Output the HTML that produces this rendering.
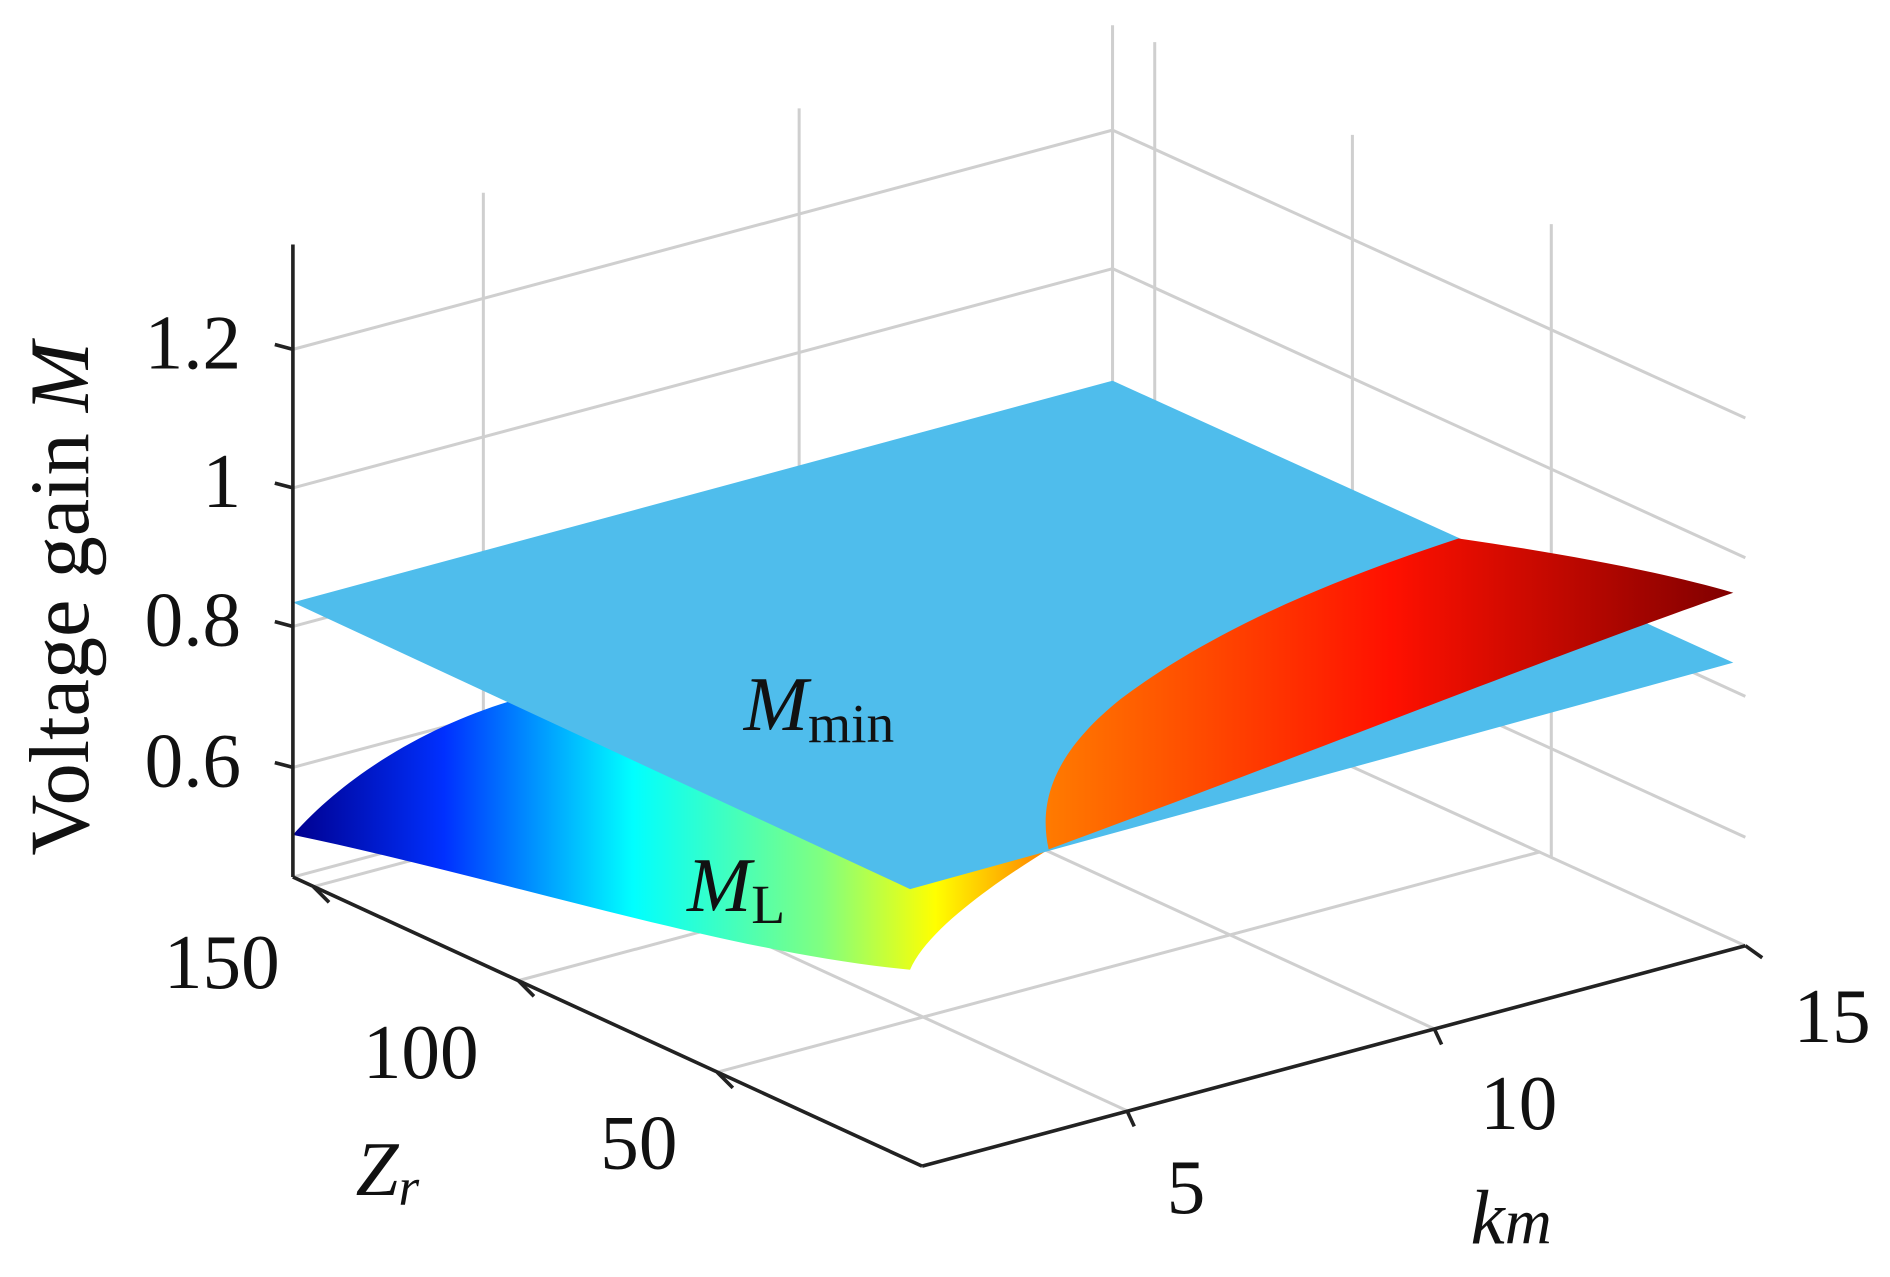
<!DOCTYPE html>
<html><head><style>html,body{margin:0;padding:0;background:#fff}svg{display:block}</style></head>
<body>
<svg width="1890" height="1277" viewBox="0 0 1568 1060" preserveAspectRatio="none" xmlns="http://www.w3.org/2000/svg" font-family="Liberation Serif, serif">
<defs>
<linearGradient id="gb" x1="243" y1="0" x2="870" y2="0" gradientUnits="userSpaceOnUse">
<stop offset="0" stop-color="#00008f"/><stop offset="0.2" stop-color="#0030ff"/><stop offset="0.45" stop-color="#00ffff"/><stop offset="0.7" stop-color="#80ff80"/><stop offset="0.85" stop-color="#ffff00"/><stop offset="1" stop-color="#ff8000"/></linearGradient>
<linearGradient id="gr" x1="870" y1="0" x2="1438" y2="0" gradientUnits="userSpaceOnUse">
<stop offset="0" stop-color="#ff7a00"/><stop offset="0.5" stop-color="#ff1000"/><stop offset="1" stop-color="#800000"/></linearGradient>
</defs>
<g stroke="#cfcfcf" stroke-width="2.5" fill="none">
<line x1="923" y1="21" x2="923" y2="546"/><line x1="958" y1="35" x2="958" y2="546"/>
<line x1="401" y1="160" x2="401" y2="685"/><line x1="663" y1="90" x2="663" y2="615"/>
<line x1="1122" y1="112" x2="1122" y2="637"/><line x1="1287" y1="186" x2="1287" y2="711"/>
<line x1="243" y1="290" x2="923" y2="108"/><line x1="923" y1="108" x2="1448" y2="347"/>
<line x1="243" y1="405" x2="923" y2="223"/><line x1="923" y1="223" x2="1448" y2="463"/>
<line x1="243" y1="520" x2="923" y2="338"/><line x1="923" y1="338" x2="1448" y2="578"/>
<line x1="243" y1="637" x2="923" y2="455"/><line x1="923" y1="455" x2="1448" y2="695"/>
<line x1="243" y1="728" x2="923" y2="546"/><line x1="923" y1="546" x2="1448" y2="785"/>
<line x1="260" y1="736" x2="943" y2="553"/><line x1="430" y1="814" x2="1113" y2="631"/><line x1="595" y1="890" x2="1278" y2="707"/>
<line x1="935" y1="922" x2="413" y2="682"/><line x1="1190" y1="854" x2="668" y2="614"/>
</g>
<path d="M243,693 C290,640 360,600 430,580 L760,730 C800,730 860,700 870,705 C830,730 770,770 755,805 C600,790 420,730 243,693 Z" fill="url(#gb)"/>
<polygon points="243,500 923,316 1438,550 755,738" fill="#4fbdec"/>
<path d="M870,705 C860,660 880,620 930,580 C1010,520 1110,480 1210,447 C1300,460 1380,475 1438,492 C1300,540 1100,620 870,705 Z" fill="url(#gr)"/>
<g stroke="#222" stroke-width="3" fill="none">
<line x1="243" y1="203" x2="243" y2="728"/><line x1="243" y1="728" x2="765" y2="968"/><line x1="765" y1="968" x2="1448" y2="785"/>
<line x1="228" y1="286" x2="243" y2="290"/><line x1="228" y1="401" x2="243" y2="405"/><line x1="228" y1="516" x2="243" y2="520"/><line x1="228" y1="633" x2="243" y2="637"/>
<line x1="260" y1="736" x2="273" y2="749"/><line x1="430" y1="814" x2="443" y2="827"/><line x1="595" y1="890" x2="608" y2="903"/>
<line x1="935" y1="922" x2="941" y2="935"/><line x1="1190" y1="854" x2="1196" y2="867"/><line x1="1448" y1="785" x2="1462" y2="795"/>
</g>
<g font-size="64" fill="#111" text-anchor="end">
<text x="200" y="306">1.2</text><text x="200" y="421">1</text><text x="200" y="536">0.8</text><text x="200" y="653">0.6</text>
<text x="232" y="820">150</text><text x="397" y="895">100</text><text x="562" y="970">50</text>
<text x="1000" y="1007">5</text><text x="1292" y="937">10</text><text x="1552" y="865">15</text>
</g>
<text transform="translate(73,497) rotate(-90)" font-size="70" text-anchor="middle" fill="#111">Voltage gain <tspan font-style="italic">M</tspan></text>
<text x="295" y="992" font-size="64" font-style="italic" fill="#111">Z<tspan font-size="44" dy="8">r</tspan></text>
<text x="1220" y="1032" font-size="64" font-style="italic" fill="#111">k<tspan font-size="54">m</tspan></text>
<text x="617" y="606" font-size="64" font-style="italic" fill="#111">M<tspan font-style="normal" font-size="46" dy="10">min</tspan></text>
<text x="570" y="756" font-size="64" font-style="italic" fill="#111">M<tspan font-style="normal" font-size="46" dy="10">L</tspan></text>
</svg>
</body></html>
